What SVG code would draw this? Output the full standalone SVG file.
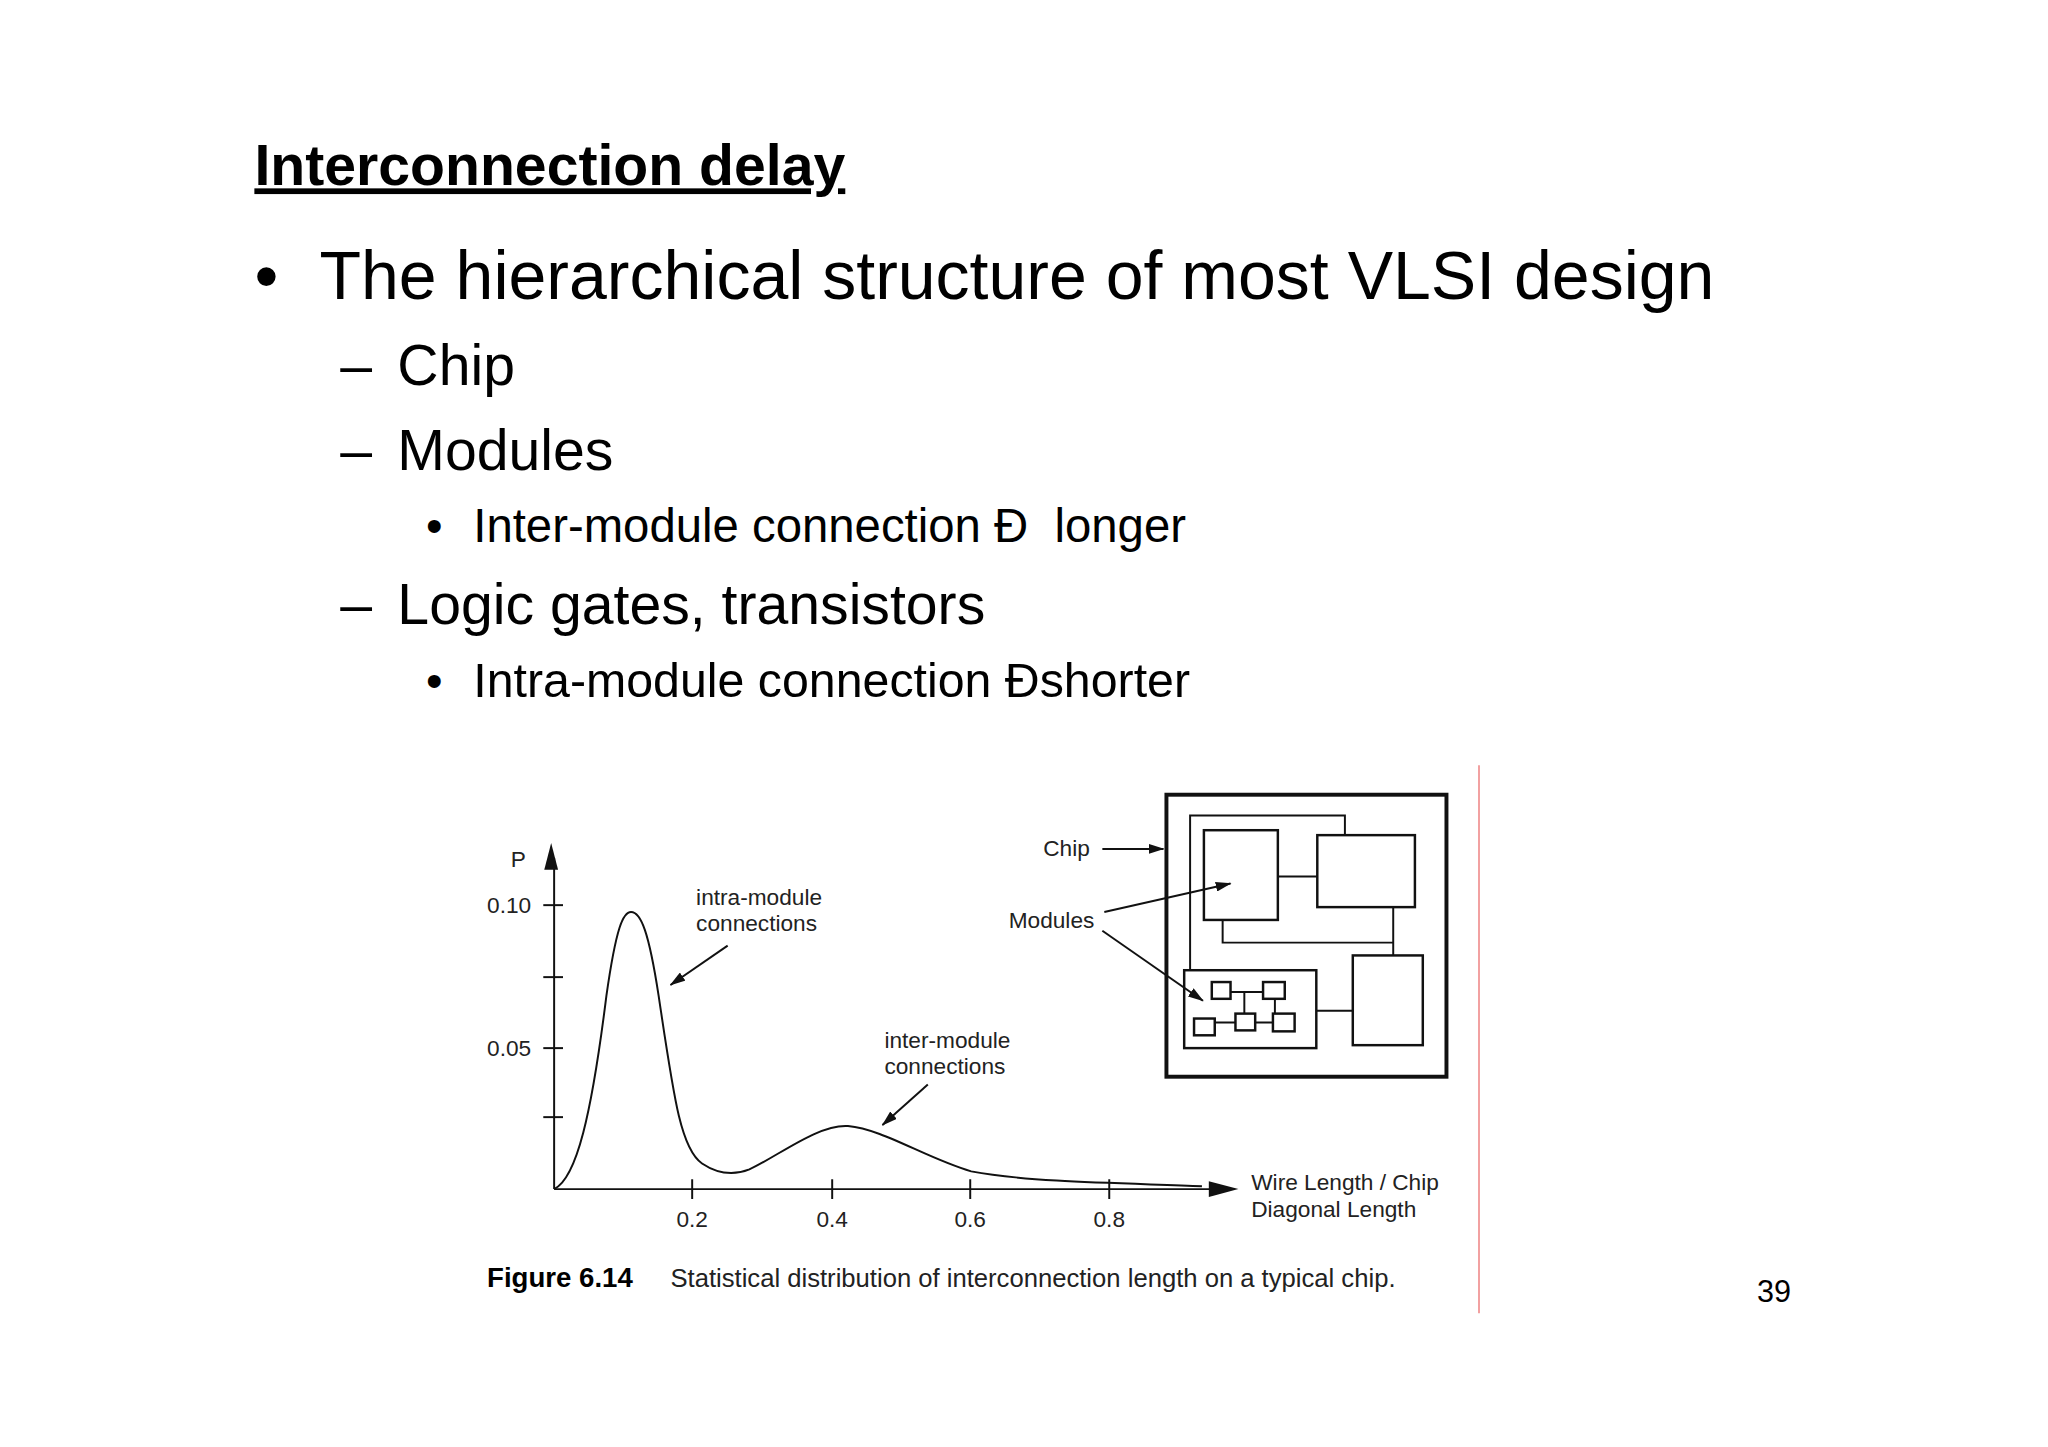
<svg xmlns="http://www.w3.org/2000/svg" width="2048" height="1447" viewBox="0 0 2048 1447">
<style>
.t{font-family:"Liberation Sans",Arial,sans-serif;fill:#000}
.f{font-family:"Liberation Sans",Arial,sans-serif;fill:#222;font-size:23px}
.ln{stroke:#111;stroke-width:2;fill:none}
.bx{stroke:#111;stroke-width:2.5;fill:#fff}
</style>
<defs>
<marker id="ah" markerWidth="16" markerHeight="10" refX="15" refY="5" orient="auto" markerUnits="userSpaceOnUse"><path d="M0,0 L16,5 L0,10 Z" fill="#111"/></marker>
</defs>
<rect width="2048" height="1447" fill="#fff"/>
<g transform="scale(0.986)">
<g id="text">
<text class="t" x="258" y="188" font-size="58" font-weight="bold" text-decoration="underline">Interconnection delay</text>
<text class="t" x="258" y="303" font-size="69">•</text>
<text class="t" x="324" y="303" font-size="69">The hierarchical structure of most VLSI design</text>
<text class="t" x="345" y="390" font-size="58">–</text>
<text class="t" x="403" y="390" font-size="58">Chip</text>
<text class="t" x="345" y="477" font-size="58">–</text>
<text class="t" x="403" y="477" font-size="58">Modules</text>
<text class="t" x="432" y="550" font-size="48">•</text>
<text class="t" x="480" y="550" font-size="48" xml:space="preserve">Inter-module connection Ð  longer</text>
<text class="t" x="345" y="633" font-size="58">–</text>
<text class="t" x="403" y="633" font-size="58">Logic gates, transistors</text>
<text class="t" x="432" y="707" font-size="48">•</text>
<text class="t" x="480" y="707" font-size="49">Intra-module connection Ðshorter</text>
<text class="t" x="1782" y="1320" font-size="31">39</text>
</g>
<line x1="1500" y1="776" x2="1500" y2="1332" stroke="#f2a0a0" stroke-width="2"/>
<g id="plot">
<line class="ln" x1="562" y1="1206" x2="562" y2="870"/>
<polygon points="559,855 552,882 566,882" fill="#111"/>
<line class="ln" x1="562" y1="1206" x2="1230" y2="1206"/>
<polygon points="1256,1206 1226,1198 1226,1214" fill="#111"/>
<g class="ln">
<line x1="551" y1="918" x2="571" y2="918"/><line x1="551" y1="991" x2="571" y2="991"/>
<line x1="551" y1="1063" x2="571" y2="1063"/><line x1="551" y1="1133" x2="571" y2="1133"/>
<line x1="702" y1="1196" x2="702" y2="1216"/><line x1="844" y1="1196" x2="844" y2="1216"/>
<line x1="984" y1="1196" x2="984" y2="1216"/><line x1="1125" y1="1196" x2="1125" y2="1216"/>
</g>
<path class="ln" stroke-width="2.5" d="M562,1206 C585,1195 600,1130 615,1010 C625,940 632,925 640,925 C650,925 658,945 668,1010 C683,1110 690,1165 712,1180 C730,1192 745,1192 760,1186 C790,1172 830,1140 860,1142 C895,1145 940,1175 985,1188 C1050,1200 1150,1200 1219,1203"/>
<text class="f" x="518" y="879">P</text>
<text class="f" x="494" y="926">0.10</text>
<text class="f" x="494" y="1071">0.05</text>
<text class="f" x="702" y="1244" text-anchor="middle">0.2</text>
<text class="f" x="844" y="1244" text-anchor="middle">0.4</text>
<text class="f" x="984" y="1244" text-anchor="middle">0.6</text>
<text class="f" x="1125" y="1244" text-anchor="middle">0.8</text>
<text class="f" x="1269" y="1207">Wire Length / Chip</text>
<text class="f" x="1269" y="1234">Diagonal Length</text>
<text class="f" x="706" y="918">intra-module</text>
<text class="f" x="706" y="944">connections</text>
<line class="ln" x1="738" y1="959" x2="680" y2="999" marker-end="url(#ah)"/>
<text class="f" x="897" y="1063">inter-module</text>
<text class="f" x="897" y="1089">connections</text>
<line class="ln" x1="941" y1="1100" x2="895" y2="1141" marker-end="url(#ah)"/>
</g>
<g id="chip">
<rect x="1183" y="806" width="284" height="286" fill="none" stroke="#111" stroke-width="4"/>
<text class="f" x="1058" y="868">Chip</text>
<line class="ln" x1="1118" y1="861" x2="1180" y2="861" marker-end="url(#ah)"/>
<text class="f" x="1023" y="941">Modules</text>
<polyline class="ln" points="1207,984 1207,827 1364,827 1364,847"/>
<polyline class="ln" points="1240,933 1240,956 1413,956"/>
<line class="ln" x1="1413" y1="920" x2="1413" y2="969"/>
<line class="ln" x1="1296" y1="889" x2="1336" y2="889"/>
<line class="ln" x1="1335" y1="1025" x2="1372" y2="1025"/>
<rect class="bx" x="1221" y="842" width="75" height="91"/>
<rect class="bx" x="1336" y="847" width="99" height="73"/>
<rect class="bx" x="1372" y="969" width="71" height="91"/>
<rect class="bx" x="1201" y="984" width="134" height="79"/>
<line class="ln" x1="1248" y1="1006" x2="1281" y2="1006"/>
<line class="ln" x1="1262" y1="1006" x2="1262" y2="1028"/>
<line class="ln" x1="1293" y1="1013" x2="1293" y2="1028"/>
<line class="ln" x1="1232" y1="1037" x2="1291" y2="1037"/>
<rect class="bx" x="1229" y="996" width="19" height="17"/>
<rect class="bx" x="1281" y="996" width="22" height="17"/>
<rect class="bx" x="1211" y="1033" width="21" height="17"/>
<rect class="bx" x="1253" y="1028" width="20" height="17"/>
<rect class="bx" x="1291" y="1028" width="22" height="18"/>
<line class="ln" x1="1120" y1="925" x2="1248" y2="896" marker-end="url(#ah)"/>
<line class="ln" x1="1118" y1="944" x2="1220" y2="1015" marker-end="url(#ah)"/>
</g>
<g id="caption">
<text class="t" x="494" y="1305" font-size="28" font-weight="bold" fill="#222">Figure 6.14</text>
<text class="f" x="680" y="1305" style="font-size:26px">Statistical distribution of interconnection length on a typical chip.</text>
</g>
</g>
</svg>
